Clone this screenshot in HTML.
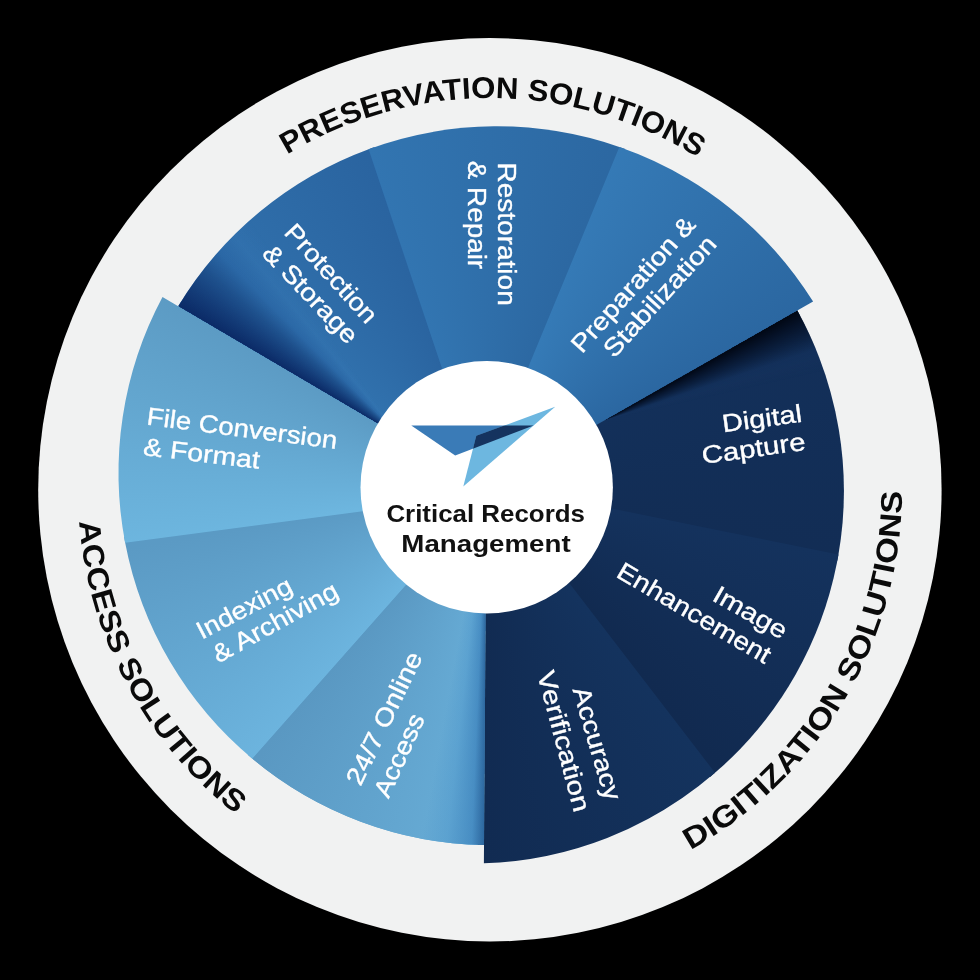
<!DOCTYPE html>
<html><head><meta charset="utf-8"><style>
html,body{margin:0;padding:0;background:#000;}
#wrap{position:relative;width:980px;height:980px;overflow:hidden;background:#000;}
.layer{position:absolute;left:0;top:0;width:980px;height:980px;will-change:transform;}
.seg{position:absolute;left:0;top:0;width:980px;height:980px;}
svg text{font-family:"Liberation Sans",sans-serif;}
.title{font-weight:bold;font-size:30px;fill:#0a0a0a;}
.lbl text{font-size:25px;fill:#fff;stroke:#fff;stroke-width:0.35px;}
.ctr{font-weight:bold;font-size:24px;fill:#111;}
</style></head><body><div id="wrap">
<svg class="layer" width="980" height="980" viewBox="0 0 980 980">
<circle cx="489.9" cy="489.8" r="451.7" fill="#f1f2f2"/>
</svg>
<div class="seg" style="background:conic-gradient(from 179.40deg at 486.5px 487.5px,#68aed8 0deg,#68aed8 1.00deg,#5a98c2 41.00deg,#5a98c2 355deg,#68aed8 360deg);clip-path:path('M485.90 573.50L484.00 845.10A372.5 372.5 0 0 1 252.43 758.74A372.5 372.5 0 0 1 247.66 754.70L429.16 556.87L432.86 554.76Z')"></div>
<div class="seg" style="background:conic-gradient(from 219.40deg at 486.5px 487.5px,#6cb4de 0deg,#6cb4de 1.00deg,#5b9ac4 41.00deg,#5b9ac4 355deg,#6cb4de 360deg);clip-path:path('M432.86 554.76L252.43 758.74A372.5 372.5 0 0 1 125.15 542.72A372.5 372.5 0 0 1 124.00 536.44L398.30 505.39L402.43 506.09Z')"></div>
<div class="seg" style="background:conic-gradient(from 259.40deg at 486.5px 487.5px,#6db6df 0deg,#6db6df 1.00deg,#5c9bc4 41.00deg,#5c9bc4 355deg,#6db6df 360deg);clip-path:path('M402.43 506.09L125.15 542.72A372.5 372.5 0 0 1 162.51 297.04L178.22 306.27A372.5 372.5 0 0 1 181.49 300.95L409.72 440.54L412.36 443.92Z')"></div>
<div class="seg" style="background:conic-gradient(from 299.40deg at 486.5px 487.5px,#3274b0 0deg,#3274b0 1.00deg,#2a64a0 41.00deg,#2a64a0 355deg,#3274b0 360deg);clip-path:path('M412.36 443.92L178.22 306.27A372.5 372.5 0 0 1 368.63 149.17A372.5 372.5 0 0 1 374.52 147.06L455.09 403.16L455.07 407.41Z')"></div>
<div class="seg" style="background:conic-gradient(from 339.40deg at 486.5px 487.5px,#3275b1 0deg,#3275b1 1.00deg,#2c68a2 41.00deg,#2c68a2 355deg,#3275b1 360deg);clip-path:path('M455.07 407.41L368.63 149.17A372.5 372.5 0 0 1 619.35 146.95A372.5 372.5 0 0 1 625.37 149.10L515.11 402.17L512.44 405.40Z')"></div>
<div class="seg" style="background:conic-gradient(from 379.40deg at 486.5px 487.5px,#357ab6 0deg,#357ab6 1.00deg,#2b67a1 41.00deg,#2b67a1 355deg,#357ab6 360deg);clip-path:path('M512.44 405.40L619.35 146.95A372.5 372.5 0 0 1 813.09 301.59L797.29 310.59A372.5 372.5 0 0 1 800.27 316.07L565.48 444.35L561.24 444.96Z')"></div>
<div class="seg" style="background:conic-gradient(from 419.40deg at 486.5px 487.5px,#13305a 0deg,#13305a 1.00deg,#122d55 41.00deg,#122d55 355deg,#13305a 360deg);clip-path:path('M561.24 444.96L797.29 310.59A372.5 372.5 0 0 1 838.44 554.59A372.5 372.5 0 0 1 837.32 560.74L575.25 502.47L571.57 500.33Z')"></div>
<div class="seg" style="background:conic-gradient(from 459.40deg at 486.5px 487.5px,#14325d 0deg,#14325d 1.00deg,#112a50 41.00deg,#112a50 355deg,#14325d 360deg);clip-path:path('M571.57 500.33L838.44 554.59A372.5 372.5 0 0 1 715.00 772.83A372.5 372.5 0 0 1 710.13 776.96L546.10 554.94L544.63 551.01Z')"></div>
<div class="seg" style="background:conic-gradient(from 499.40deg at 486.5px 487.5px,#14335e 0deg,#14335e 1.00deg,#112b52 41.00deg,#112b52 355deg,#14335e 360deg);clip-path:path('M544.63 551.01L715.00 772.83A372.5 372.5 0 0 1 483.88 863.30L484.00 845.10A372.5 372.5 0 0 1 477.76 844.93L484.30 577.47L485.90 573.50Z')"></div>
<div class="seg" style="background:conic-gradient(from 179.40deg at 486.5px 487.5px,#68aed8 0deg,#68aed8 1.00deg,#5a98c2 41.00deg,#5a98c2 355deg,#68aed8 360deg);clip-path:path('M485.90 573.50L484.00 845.10A372.5 372.5 0 0 1 252.43 758.74L432.86 554.76Z')"></div>
<div class="seg" style="background:conic-gradient(from 180.40deg at 486.50px 487.50px,rgba(25,80,140,0.75) 0.00deg,rgba(40,110,175,0.50) 2.00deg,rgba(60,135,195,0.25) 6.00deg,rgba(60,135,195,0) 10.00deg,rgba(60,135,195,0) 360deg);clip-path:path('M485.90 573.50L484.00 845.10A372.5 372.5 0 0 1 252.43 758.74L432.86 554.76Z')"></div>
<div class="seg" style="background:conic-gradient(from 300.45deg at 400.29px 436.82px,rgba(6,32,92,0.88) 0.00deg,rgba(8,38,98,0.70) 5.00deg,rgba(10,45,105,0.48) 10.00deg,rgba(25,75,145,0.22) 15.00deg,rgba(80,150,220,0.06) 20.00deg,rgba(80,150,220,0) 25.00deg,rgba(80,150,220,0) 360deg);clip-path:path('M412.36 443.92L178.22 306.27A372.5 372.5 0 0 1 368.63 149.17L455.07 407.41Z')"></div>
<div class="seg" style="background:conic-gradient(from 420.35deg at 603.82px 420.72px,rgba(0,4,14,0.92) 0.00deg,rgba(0,5,18,0.70) 3.00deg,rgba(0,8,25,0.40) 7.00deg,rgba(20,50,95,0.05) 11.00deg,rgba(40,70,120,0.06) 13.00deg,rgba(40,70,120,0) 17.00deg,rgba(40,70,120,0) 360deg);clip-path:path('M561.24 444.96L797.29 310.59A372.5 372.5 0 0 1 838.44 554.59L571.57 500.33Z')"></div>
<svg class="layer" width="980" height="980" viewBox="0 0 980 980">
<defs><path id="tp1" d="M287.11 154.59A392 392 0 0 1 697.73 157.57"/>
<path id="tp2" d="M690.37 849.99A412 412 0 0 0 902.00 491.08"/>
<path id="tp3" d="M79.21 521.61A412 412 0 0 0 235.78 814.22"/>
<clipPath id="lc"><polygon points="411.3,425.4 533.6,425.4 455.2,455.4"/></clipPath>
</defs>
<circle cx="486.7" cy="487.3" r="126.2" fill="#fff"/>
<polygon points="411.3,425.4 533.6,425.4 455.2,455.4" fill="#3a7bb7"/>
<polygon points="555.2,406.8 463.3,486.6 476.3,435.8" fill="#6db7e0"/>
<polygon points="555.2,406.8 463.3,486.6 476.3,435.8" fill="#15335f" clip-path="url(#lc)"/>
<text class="ctr" x="485.7" y="522.1" text-anchor="middle" textLength="198.6" lengthAdjust="spacingAndGlyphs">Critical Records</text>
<text class="ctr" x="486" y="551.7" text-anchor="middle" textLength="169.3" lengthAdjust="spacingAndGlyphs">Management</text>
<text class="title"><textPath href="#tp1" textLength="432.2" lengthAdjust="spacingAndGlyphs">PRESERVATION SOLUTIONS</textPath></text>
<text class="title"><textPath href="#tp2" textLength="436.8" lengthAdjust="spacingAndGlyphs">DIGITIZATION SOLUTIONS</textPath></text>
<text class="title"><textPath href="#tp3" textLength="341.6" lengthAdjust="spacingAndGlyphs">ACCESS SOLUTIONS</textPath></text>
<g class="lbl">
<text transform="translate(283.1 233.2) rotate(47.74)" textLength="124.3" lengthAdjust="spacingAndGlyphs">Protection</text>
<text transform="translate(261.0 254.4) rotate(46.39)" textLength="125.5" lengthAdjust="spacingAndGlyphs">&amp; Storage</text>
<text transform="translate(498.2 162.4) rotate(90.00)" textLength="143.4" lengthAdjust="spacingAndGlyphs">Restoration</text>
<text transform="translate(468.0 160.7) rotate(90.00)" textLength="108.4" lengthAdjust="spacingAndGlyphs">&amp; Repair</text>
<text transform="translate(582.0 354.5) rotate(-48.30)" textLength="172.7" lengthAdjust="spacingAndGlyphs">Preparation &amp;</text>
<text transform="translate(614.1 359.1) rotate(-47.70)" textLength="154.4" lengthAdjust="spacingAndGlyphs">Stabilization</text>
<text transform="translate(723.3 432.3) rotate(-7.66)" textLength="80.3" lengthAdjust="spacingAndGlyphs">Digital</text>
<text transform="translate(703.1 464.1) rotate(-7.95)" textLength="104.2" lengthAdjust="spacingAndGlyphs">Capture</text>
<text transform="translate(710.9 599.8) rotate(29.59)" textLength="81.0" lengthAdjust="spacingAndGlyphs">Image</text>
<text transform="translate(615.0 576.2) rotate(30.47)" textLength="173.6" lengthAdjust="spacingAndGlyphs">Enhancement</text>
<text transform="translate(572.5 689.8) rotate(73.63)" textLength="116.9" lengthAdjust="spacingAndGlyphs">Accuracy</text>
<text transform="translate(537.1 673.6) rotate(75.14)" textLength="144.5" lengthAdjust="spacingAndGlyphs">Verification</text>
<text transform="translate(360.6 787.1) rotate(-64.39)" textLength="144.6" lengthAdjust="spacingAndGlyphs">24/7 Online</text>
<text transform="translate(388.4 799.2) rotate(-65.53)" textLength="88.7" lengthAdjust="spacingAndGlyphs">Access</text>
<text transform="translate(201.7 639.7) rotate(-27.52)" textLength="104.5" lengthAdjust="spacingAndGlyphs">Indexing</text>
<text transform="translate(218.2 663.6) rotate(-29.01)" textLength="139.5" lengthAdjust="spacingAndGlyphs">&amp; Archiving</text>
<text transform="translate(146.0 424.6) rotate(7.31)" textLength="191.7" lengthAdjust="spacingAndGlyphs">File Conversion</text>
<text transform="translate(142.4 454.9) rotate(6.78)" textLength="117.4" lengthAdjust="spacingAndGlyphs">&amp; Format</text>
</g>
</svg>
</div></body></html>
